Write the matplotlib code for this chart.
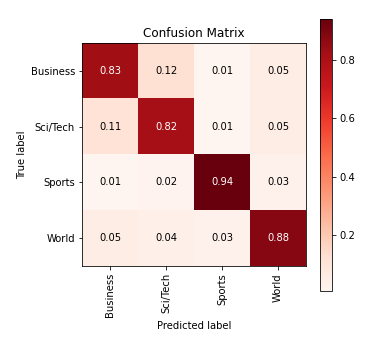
import numpy as np
from matplotlib import pyplot as plt

classes = ['Business', 'Sci/Tech', 'Sports', 'World']
cm = np.array([[0.83, 0.12, 0.01, 0.05],
               [0.11, 0.82, 0.01, 0.05],
               [0.01, 0.02, 0.94, 0.03],
               [0.05, 0.04, 0.03, 0.88]])

W, H = 381, 364
fig = plt.figure(figsize=(W / 72, H / 72), dpi=72)
ax = fig.add_axes([82 / W, 1 - 266 / H, 224 / W, 223 / H])
cax = fig.add_axes([320 / W, 1 - 291 / H, 12 / W, 272 / H])

im = ax.imshow(cm, interpolation='nearest', cmap=plt.cm.Reds, aspect='auto')
fig.colorbar(im, cax=cax)
ax.set_title('Confusion Matrix')
ax.set_xticks(np.arange(len(classes)))
ax.set_yticks(np.arange(len(classes)))
ax.set_xticklabels(classes, rotation=90)
ax.set_yticklabels(classes)

thresh = cm.max() / 2.
for i in range(cm.shape[0]):
    for j in range(cm.shape[1]):
        ax.text(j, i, format(cm[i, j], '.2f'),
                ha='center', va='center',
                color='white' if cm[i, j] > thresh else 'black')

ax.set_ylabel('True label')
ax.set_xlabel('Predicted label')
fig.savefig('out.png', dpi=72)
